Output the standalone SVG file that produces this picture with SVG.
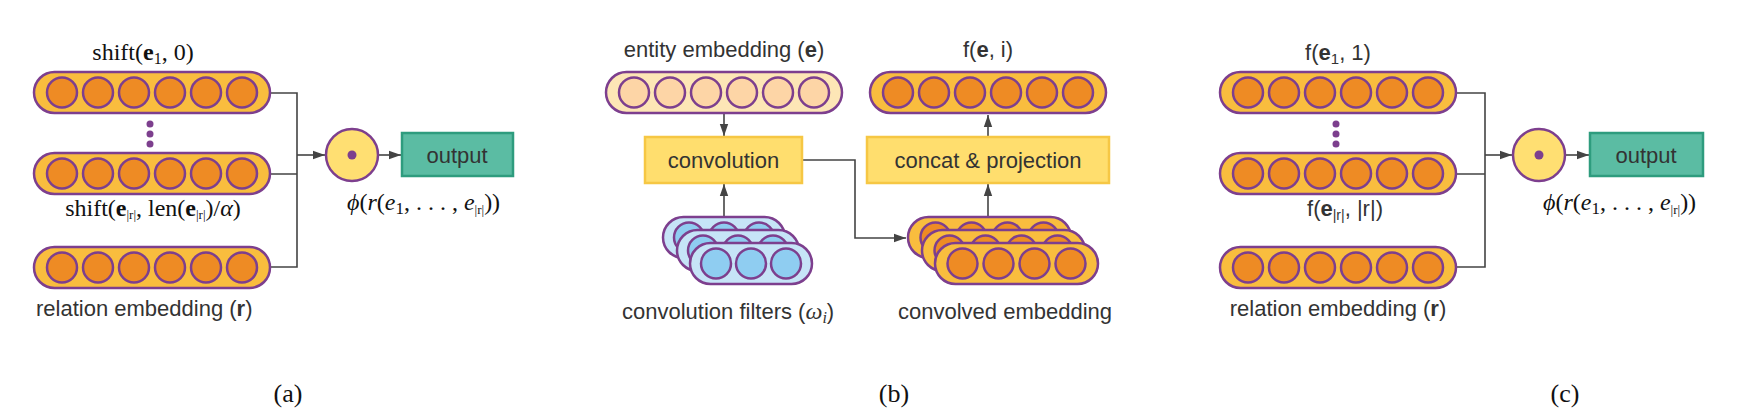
<svg xmlns="http://www.w3.org/2000/svg" width="1752" height="413" viewBox="0 0 1752 413">
<style>
.bar{fill:#f9bd3e;stroke:#7d3f8e;stroke-width:2.5}
.c{fill:#ee8b24;stroke:#7d3f8e;stroke-width:2.5}
.lbar{fill:#fde6b6;stroke:#7d3f8e;stroke-width:2.5}
.lc{fill:#fdd5a6;stroke:#7d3f8e;stroke-width:2.5}
.bbar{fill:#c6e4f7;stroke:#7d3f8e;stroke-width:2.5}
.bc{fill:#8fcdf1;stroke:#7d3f8e;stroke-width:2.5}
.box{fill:#ffde6e;stroke:#f6c744;stroke-width:2.5}
.out{fill:#5bbca3;stroke:#2e9c7e;stroke-width:2.5}
.op{fill:#ffdf72;stroke:#7d3f8e;stroke-width:2.5}
.dot{fill:#7d3f8e}
.ln{fill:none;stroke:#444;stroke-width:1.6}
.sans{font-family:"Liberation Sans",Arial,sans-serif;fill:#333;font-size:22px}
.serif{font-family:"Liberation Serif","Times New Roman",serif;fill:#111;font-size:24px}
.cap{font-family:"Liberation Serif","Times New Roman",serif;fill:#111;font-size:26px;text-anchor:middle}
</style>
<defs>
<marker id="ah" viewBox="0 0 10 10" refX="10" refY="5" markerWidth="7" markerHeight="7" orient="auto" markerUnits="userSpaceOnUse">
<path d="M0,1 L10,5 L0,9 z" fill="#444"/>
</marker>
<marker id="ah2" viewBox="0 0 10 10" refX="10" refY="5" markerWidth="12" markerHeight="12" orient="auto" markerUnits="userSpaceOnUse">
<path d="M0,1.5 L10,5 L0,8.5 z" fill="#444"/>
</marker>
<g id="bar6">
<rect class="bar" x="0" y="0" width="236" height="41" rx="20.5"/>
<circle class="c" cx="28" cy="20.5" r="15"/><circle class="c" cx="64" cy="20.5" r="15"/><circle class="c" cx="100" cy="20.5" r="15"/><circle class="c" cx="136" cy="20.5" r="15"/><circle class="c" cx="172" cy="20.5" r="15"/><circle class="c" cx="208" cy="20.5" r="15"/>
</g>
<g id="fil">
<rect class="bbar" x="0" y="0" width="122" height="41" rx="20.5"/>
<circle class="bc" cx="26" cy="20.5" r="15"/><circle class="bc" cx="61" cy="20.5" r="15"/><circle class="bc" cx="96" cy="20.5" r="15"/>
</g>
<g id="cv">
<rect class="bar" x="0" y="0" width="163" height="41" rx="20.5"/>
<circle class="c" cx="27.5" cy="20.5" r="15"/><circle class="c" cx="63.5" cy="20.5" r="15"/><circle class="c" cx="99.5" cy="20.5" r="15"/><circle class="c" cx="135.5" cy="20.5" r="15"/>
</g>
</defs>

<g id="connectors">
<path class="ln" d="M270,93 H297 V267 H270 M270,174 H297"/>
<path class="ln" d="M297,155 H325" marker-end="url(#ah2)"/>
<path class="ln" d="M378,155 H401" marker-end="url(#ah2)"/>
<path class="ln" d="M724,114 V136" marker-end="url(#ah2)"/>
<path class="ln" d="M724,217 V184" marker-end="url(#ah2)"/>
<path class="ln" d="M803,160 H855 V238 H906" marker-end="url(#ah2)"/>
<path class="ln" d="M988,217 V184" marker-end="url(#ah2)"/>
<path class="ln" d="M988,136 V115" marker-end="url(#ah2)"/>
<path class="ln" d="M1456,93 H1485 V267 H1456 M1456,174 H1485"/>
<path class="ln" d="M1485,155 H1512" marker-end="url(#ah2)"/>
<path class="ln" d="M1566,155 H1589" marker-end="url(#ah2)"/>
</g>

<!-- panel a -->
<g id="a-bar1"><use href="#bar6" x="34" y="72"/>
<text class="serif" x="143" y="60" text-anchor="middle">shift(<tspan font-weight="bold">e</tspan><tspan font-size="16" dy="4">1</tspan><tspan dy="-4">, 0)</tspan></text></g>
<g id="a-dots"><circle class="dot" cx="150" cy="124" r="3.5"/><circle class="dot" cx="150" cy="134" r="3.5"/><circle class="dot" cx="150" cy="144" r="3.5"/></g>
<g id="a-bar2"><use href="#bar6" x="34" y="153"/>
<text class="serif" x="153" y="216" text-anchor="middle">shift(<tspan font-weight="bold">e</tspan><tspan font-size="13" dy="3">|r|</tspan><tspan dy="-3">, len(</tspan><tspan font-weight="bold">e</tspan><tspan font-size="13" dy="3">|r|</tspan><tspan dy="-3">)/</tspan><tspan font-style="italic">α</tspan>)</text></g>
<g id="a-bar3"><use href="#bar6" x="34" y="247"/>
<text class="sans" x="36" y="316">relation embedding (<tspan font-weight="bold">r</tspan>)</text></g>
<g id="a-op"><circle class="op" cx="352" cy="155" r="26"/><circle class="dot" cx="352" cy="155" r="4.5"/></g>
<g id="a-out"><rect class="out" x="402" y="133" width="111" height="43"/>
<text class="sans" x="457" y="163" text-anchor="middle" font-size="23">output</text>
<text class="serif" x="347" y="210" font-size="26"><tspan font-style="italic">ϕ</tspan>(<tspan font-style="italic">r</tspan>(<tspan font-style="italic">e</tspan><tspan font-size="17" dy="4">1</tspan><tspan dy="-4">, . . . , </tspan><tspan font-style="italic">e</tspan><tspan font-size="13" dy="4">|r|</tspan><tspan dy="-4">))</tspan></text></g>
<text class="cap" x="288" y="402">(a)</text>

<!-- panel b -->
<g id="b-entity"><text class="sans" x="724" y="57" text-anchor="middle">entity embedding (<tspan font-weight="bold">e</tspan>)</text>
<rect class="lbar" x="606" y="72" width="236" height="41" rx="20.5"/>
<circle class="lc" cx="634" cy="92.5" r="15"/><circle class="lc" cx="670" cy="92.5" r="15"/><circle class="lc" cx="706" cy="92.5" r="15"/><circle class="lc" cx="742" cy="92.5" r="15"/><circle class="lc" cx="778" cy="92.5" r="15"/><circle class="lc" cx="814" cy="92.5" r="15"/></g>
<g id="b-conv"><rect class="box" x="645" y="137" width="157" height="46"/>
<text class="sans" x="723.5" y="168" text-anchor="middle" font-size="23">convolution</text></g>
<g id="b-filters"><use href="#fil" x="663" y="217"/><use href="#fil" x="677" y="230"/><use href="#fil" x="690" y="243"/>
<text class="sans" x="622" y="319">convolution filters (<tspan font-family="Liberation Serif, serif" font-style="italic" font-size="24">ω</tspan><tspan font-family="Liberation Serif, serif" font-style="italic" font-size="16" dy="4">i</tspan><tspan dy="-4">)</tspan></text></g>
<g id="b-convolved"><use href="#cv" x="908" y="217"/><use href="#cv" x="922" y="230"/><use href="#cv" x="935" y="243"/>
<text class="sans" x="1005" y="319" text-anchor="middle">convolved embedding</text></g>
<g id="b-concat"><rect class="box" x="867" y="137" width="242" height="46"/>
<text class="sans" x="988" y="168" text-anchor="middle" font-size="23">concat &amp; projection</text></g>
<g id="b-fei"><use href="#bar6" x="870" y="72"/>
<text class="sans" x="988" y="57" text-anchor="middle">f(<tspan font-weight="bold">e</tspan>, i)</text></g>
<text class="cap" x="894" y="402">(b)</text>

<!-- panel c -->
<g id="c-bar1"><use href="#bar6" x="1220" y="72"/>
<text class="sans" x="1338" y="60" text-anchor="middle">f(<tspan font-weight="bold">e</tspan><tspan font-size="15" dy="4">1</tspan><tspan dy="-4">, 1)</tspan></text></g>
<g id="c-dots"><circle class="dot" cx="1336" cy="124" r="3.5"/><circle class="dot" cx="1336" cy="134" r="3.5"/><circle class="dot" cx="1336" cy="144" r="3.5"/></g>
<g id="c-bar2"><use href="#bar6" x="1220" y="153"/>
<text class="sans" x="1345" y="216" text-anchor="middle">f(<tspan font-weight="bold">e</tspan><tspan font-size="14" dy="4">|r|</tspan><tspan dy="-4">, |r|)</tspan></text></g>
<g id="c-bar3"><use href="#bar6" x="1220" y="247"/>
<text class="sans" x="1338" y="316" text-anchor="middle">relation embedding (<tspan font-weight="bold">r</tspan>)</text></g>
<g id="c-op"><circle class="op" cx="1539" cy="155" r="26"/><circle class="dot" cx="1539" cy="155" r="4.5"/></g>
<g id="c-out"><rect class="out" x="1590" y="133" width="113" height="43"/>
<text class="sans" x="1646" y="163" text-anchor="middle" font-size="23">output</text>
<text class="serif" x="1543" y="210" font-size="26"><tspan font-style="italic">ϕ</tspan>(<tspan font-style="italic">r</tspan>(<tspan font-style="italic">e</tspan><tspan font-size="17" dy="4">1</tspan><tspan dy="-4">, . . . , </tspan><tspan font-style="italic">e</tspan><tspan font-size="13" dy="4">|r|</tspan><tspan dy="-4">))</tspan></text></g>
<text class="cap" x="1565" y="402">(c)</text>
</svg>
